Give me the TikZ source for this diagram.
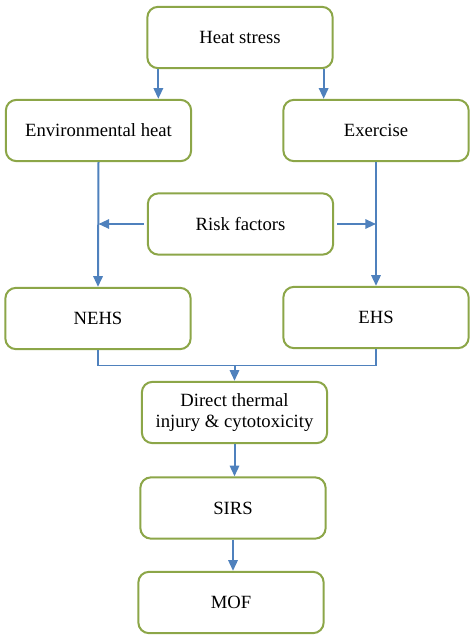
\documentclass[tikz,border=0pt]{standalone}
\usepackage{fontspec}
\setmainfont{Liberation Serif}
\usetikzlibrary{calc,arrows.meta}
\definecolor{boxgreen}{RGB}{140,166,72}
\definecolor{flowblue}{RGB}{79,129,189}

\begin{document}
\begin{tikzpicture}[x=0.75pt,y=-0.75pt,
                    box/.style={draw=boxgreen,line width=1.5pt,rounded corners=8pt,fill=white,
                                minimum width=139pt,minimum height=46pt,align=center,
                                font=\fontsize{14}{16}\selectfont},
                    flow/.style={flowblue,line width=1.5pt},
                    flow arrow/.style={flow,-{Triangle[length=8pt,width=7pt]}}]
    \path[use as bounding box] (0,0) rectangle (474,638);

    \node[box] (heat) at (240,37.5) {Heat stress};
    \node[box] (env) at (98.5,130.5) {Environmental heat};
    \node[box] (exercise) at (376,130.5) {Exercise};
    \node[box] (risk) at (240.5,224) {Risk factors};
    \node[box] (nehs) at (98,318.5) {NEHS};
    \node[box] (ehs) at (376,317.5) {EHS};
    \node[box] (direct) at (234.5,412.5) {Direct thermal\\injury \& cytotoxicity};
    \node[box] (sirs) at (233,508) {SIRS};
    \node[box] (mof) at (231,602.5) {MOF};

    \coordinate (heat left) at ($(heat.south west)+(12,0)$);
    \coordinate (heat right) at ($(heat.south east)+(-10,0)$);
    \draw[flow arrow] (heat left) -- (heat left |- env.north);
    \draw[flow arrow] (heat right) -- (heat right |- exercise.north);

    \draw[flow arrow] (env.south) -- (nehs.north);
    \draw[flow arrow] (exercise.south) -- (ehs.north);
    \draw[flow arrow] ($(risk.west)+(-3,0)$) -- (risk.west -| env.south);
    \draw[flow arrow] ($(risk.east)+(3,0)$) -- (risk.east -| exercise.south);

    \draw[flow,line width=1pt] (nehs.south) -- ++(0,15) coordinate (join) -| (ehs.south);
    \draw[flow arrow] (join -| direct.north) -- (direct.north);

    \draw[flow arrow] (direct.south) -- (direct.south |- sirs.north);
    \draw[flow arrow] (sirs.south) -- (sirs.south |- mof.north);
\end{tikzpicture}
\end{document}
